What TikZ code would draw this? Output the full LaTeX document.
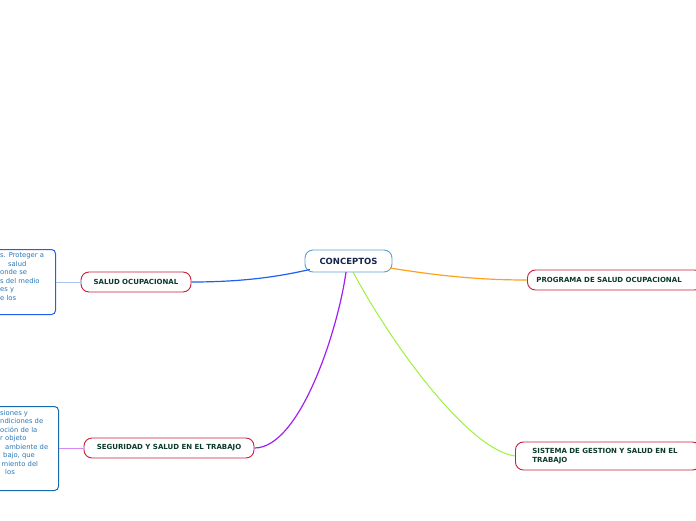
\documentclass[tikz,border=0pt]{standalone}
\usepackage{fontspec}
\setmainfont{DejaVu Sans}
\begin{document}
\begin{tikzpicture}[x=1pt,y=-1pt,
  topic/.style={draw=#1,line width=0.9pt,rounded corners=8pt,fill=white,inner sep=0pt,font=\bfseries\fontsize{7}{8.5}\selectfont,text=tdark,anchor=north west},
  note/.style={draw=#1,line width=1pt,rounded corners=4pt,fill=white,inner sep=0pt,anchor=north west},
  ntext/.style={inner sep=0pt,anchor=north west,align=left,font=\fontsize{6.8}{8.5}\selectfont,text=ntxt},
  conn/.style={draw=#1,line width=1.2pt}
]
\definecolor{tdark}{HTML}{0B3A2C}
\definecolor{navy}{HTML}{14264E}
\definecolor{redb}{HTML}{C81E3C}
\definecolor{ntxt}{HTML}{2A78B8}
\definecolor{cblue}{HTML}{2060F0}
\definecolor{nblue}{HTML}{1A6AB0}
\definecolor{cbord}{HTML}{5AA0D2}
\definecolor{lblue}{HTML}{A8C4F4}
\definecolor{cpurp}{HTML}{A020F0}
\definecolor{lpurp}{HTML}{D888F4}
\definecolor{corg}{HTML}{FFA020}
\definecolor{cgreen}{HTML}{9EF040}
\useasboundingbox (0,0) rectangle (696,520);
\clip (0,0) rectangle (696,520);

% notes
\node[note=cblue,minimum width=75pt,minimum height=65pt] (n1) at (-20,249) {};
\node[ntext] (t1) at (0,252.5) {s. Proteger a\\\hspace*{8pt}salud\\onde se\\s del medio\\es y\\e los};
\node[note=nblue,minimum width=78pt,minimum height=84pt] (n2) at (-20,406) {};
\node[ntext] (t2) at (0,410) {siones y\\ndiciones de\\oción de la\\r objeto\\\hspace*{5pt}ambiente de\\\hspace*{3pt}bajo, que\\\hspace*{1.5pt}miento del\\\hspace*{5pt}los};

% central
\node[draw=cbord,line width=0.9pt,rounded corners=8pt,fill=white,inner sep=0pt,
  minimum width=87pt,minimum height=22pt,font=\bfseries\fontsize{8.5}{9}\selectfont,text=navy] (c) at (348.5,261) {CONCEPTOS};
\coordinate (cl) at (310,269.5);

% topics
\node[topic=redb,minimum width=110pt,minimum height=20pt,anchor=center] (so) at (136,282) {SALUD OCUPACIONAL};
\node[topic=redb,minimum width=170pt,minimum height=20pt,anchor=center] (sst) at (169,448) {SEGURIDAD Y SALUD EN EL TRABAJO};
\node[topic=redb,minimum width=175pt,minimum height=20pt,anchor=west,text width=163pt,align=left] (pso) at (527,280) {\hspace*{3pt}PROGRAMA DE SALUD OCUPACIONAL};
\node[topic=redb,minimum width=185pt,minimum height=28pt,anchor=west,text width=165pt,align=left] (sg) at (515,456) {\hspace*{7pt}SISTEMA DE GESTION Y SALUD EN EL\\\hspace*{7pt}TRABAJO};

% connectors
\draw[conn=cblue] (so.east) .. controls (250,282) and (285,275) .. (cl);
\draw[conn=lblue,line width=1pt] (so.west) -- (n1.east |- so.west);
\draw[conn=cpurp] (346,272) .. controls (338,330) and (300,448) .. (sst.east);
\draw[conn=lpurp,line width=0.8pt] (sst.west) -- (n2.east |- sst.west);
\draw[conn=corg] (390,268) .. controls (440,276) and (480,280) .. (pso.west);
\draw[conn=cgreen,line width=1pt] (353,272) .. controls (395,350) and (470,450) .. (sg.west);
\end{tikzpicture}
\end{document}
